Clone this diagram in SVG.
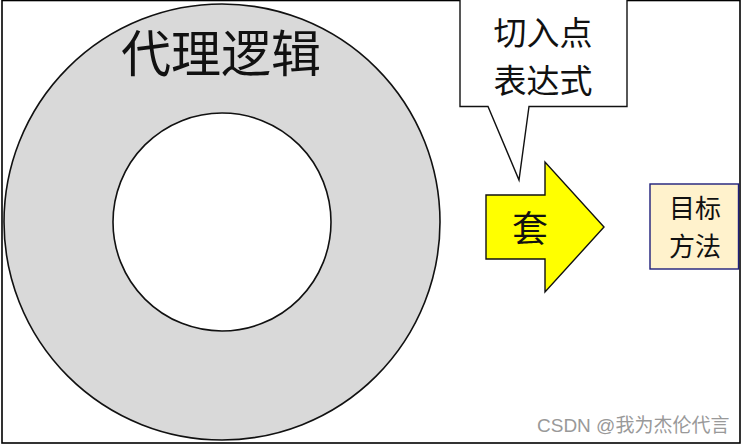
<svg xmlns="http://www.w3.org/2000/svg" width="744" height="446" viewBox="0 0 744 446">
<style>
.t{font-family:"Noto Sans CJK SC","Noto Sans",sans-serif;fill:#111;text-anchor:middle}
.ln{stroke:#111;stroke-width:1.6}
</style>
<rect x="0" y="0" width="744" height="446" fill="#fff"/>
<rect x="2" y="0.5" width="738" height="442.5" fill="none" stroke="#000" stroke-width="1.6"/>
<g id="proxy">
<circle cx="222" cy="222" r="218" fill="#d9d9d9" class="ln"/>
<circle cx="222" cy="222" r="109" fill="#fff" class="ln"/>
<text class="t" x="221" y="72" font-size="50">代理逻辑</text>
</g>
<g id="callout">
<path d="M460,-1 L627,-1 L627,106.5 L529,106.5 L519,180 L488,106.5 L460,106.5 Z" fill="#fff" stroke="#111" stroke-width="1.4"/>
<text class="t" x="543" y="45" font-size="33">切入点</text>
<text class="t" x="543" y="93" font-size="33">表达式</text>
</g>
<g id="connectors">
<g id="arrow">
<path d="M486,195 L545,195 L545,162 L604,227 L545,292 L545,259 L486,259 Z" fill="#ffff00" stroke="#111" stroke-width="1.4"/>
<text class="t" x="530" y="242" font-size="36">套</text>
</g>
</g>
<g id="target">
<rect x="650" y="184" width="88.5" height="85" fill="#fff2cc" stroke="#1f1f7a" stroke-width="1.4"/>
<text class="t" x="695" y="218" font-size="26">目标</text>
<text class="t" x="695" y="256" font-size="26">方法</text>
</g>
<text x="537" y="432" font-family="'Liberation Sans','Noto Sans CJK SC',sans-serif" font-size="19" fill="#999">CSDN @我为杰伦代言</text>
</svg>
